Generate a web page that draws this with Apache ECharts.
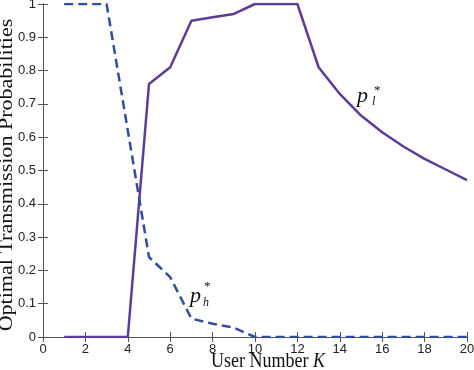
<!DOCTYPE html>
<html><head><meta charset="utf-8">
<script src="https://cdn.jsdelivr.net/npm/echarts@6/dist/echarts.min.js"></script>
<style>html,body{margin:0;padding:0;background:#fff}#c{width:474px;height:370px}</style>
</head><body><div id="c"></div>
<script>
const userNumbers = [1,2,3,4,5,6,7,8,9,10,11,12,13,14,15,16,17,18,19,20];
const pLow  = [0,0,0,0,0.76,0.81,0.95,0.96,0.97,1,1,1,0.81,0.73,0.665,0.615,0.572,0.535,0.503,0.471];
const pHigh = [1,1,1,0.62,0.24,0.18,0.055,0.04,0.028,0,0,0,0,0,0,0,0,0,0,0];
const yTickLabels = ['0','0.1','0.2','0.3','0.4','0.5','0.6','0.7','0.8','0.9','1'];
const xTitle = 'User Number ';
const xTitleVar = 'K';
const yTitle = 'Optimal Transmission Probabilities';

const chart = echarts.init(document.getElementById('c'), null, {renderer:'canvas'});
const axisLine = {show:true, lineStyle:{color:'#555', width:1}};
const tick = {show:true, inside:true, length:5, lineStyle:{color:'#555'}};
const lbl = {color:'#222', fontFamily:'Liberation Sans, Arial, sans-serif', fontSize:13};
const serif = 'Liberation Serif, Times New Roman, serif';
chart.setOption({
  animation:false,
  grid:{left:43, right:7, top:4, bottom:33, containLabel:false, outerBoundsMode:'none'},
  xAxis:[
    {type:'value', min:0, max:20, interval:2, position:'bottom', axisLine, axisTick:tick,
     splitLine:{show:false}, axisLabel:Object.assign({margin:6}, lbl)},
    {type:'value', min:0, max:20, interval:2, position:'top', axisLine, axisTick:tick,
     splitLine:{show:false}, axisLabel:{show:false}}
  ],
  yAxis:[
    {type:'value', min:0, max:1, interval:0.1, position:'left', axisLine, axisTick:tick,
     splitLine:{show:false},
     axisLabel:Object.assign({margin:7, formatter:(v,i)=>yTickLabels[Math.round(v*10)]}, lbl)},
    {type:'value', min:0, max:1, interval:0.1, position:'right', axisLine, axisTick:tick,
     splitLine:{show:false}, axisLabel:{show:false}}
  ],
  series:[
    {type:'line', name:'pl', data:userNumbers.map((k,i)=>[k,pLow[i]]), showSymbol:false, symbol:'none',
     lineStyle:{color:'#5b3d98', width:2.5}, z:3},
    {type:'line', name:'ph', data:userNumbers.map((k,i)=>[k,pHigh[i]]), showSymbol:false, symbol:'none',
     lineStyle:{color:'#2f4f9e', width:2.5, type:[9,5]}, z:4}
  ],
  graphic:[
    {type:'text', x:268, y:362, scaleY:1.12, style:{
      text:'{n|'+xTitle+'}{k|'+xTitleVar+'}', align:'center', verticalAlign:'middle',
      rich:{n:{font:'18px '+serif, fill:'#111'}, k:{font:'italic 18px '+serif, fill:'#111'}}}},
    {type:'text', x:7, y:175, rotation:Math.PI/2, scaleX:1.16, style:{
      text:yTitle, align:'center', verticalAlign:'middle', font:'19px '+serif, fill:'#111'}},
    {type:'text', left:357, top:85, style:{text:'p', font:'italic 22px '+serif, fill:'#111'}},
    {type:'text', left:374, top:84, style:{text:'*', font:'13px '+serif, fill:'#111'}},
    {type:'text', left:372, top:96, style:{text:'l', font:'italic 12px '+serif, fill:'#111'}},
    {type:'text', left:190, top:285, style:{text:'p', font:'italic 22px '+serif, fill:'#111'}},
    {type:'text', left:204, top:280, style:{text:'*', font:'13px '+serif, fill:'#111'}},
    {type:'text', left:203, top:297, style:{text:'h', font:'italic 12px '+serif, fill:'#111'}}
  ]
});
</script></body></html>
